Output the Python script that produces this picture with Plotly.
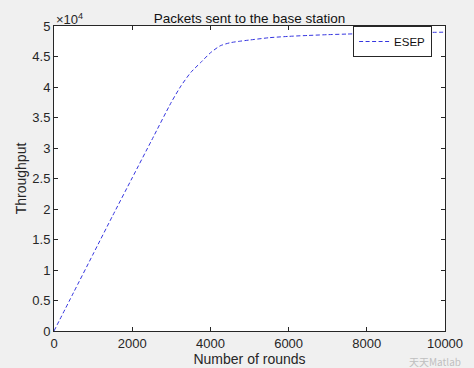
import plotly.graph_objects as go

rounds = [0, 500, 1000, 1500, 2000, 2500, 3000, 3250, 3500, 3750, 4000, 4250, 4500, 4750, 5000, 5500, 6000, 6500, 7000, 7500, 8000, 8500, 9000, 9500, 10000]
throughput = [0, 6300, 12600, 18900, 25100, 31300, 37500, 40200, 42400, 44000, 45600, 46750, 47250, 47500, 47700, 48080, 48300, 48450, 48580, 48680, 48760, 48830, 48890, 48940, 48990]

x_ticks = [0, 2000, 4000, 6000, 8000, 10000]
x_tick_text = ["0", "2000", "4000", "6000", "8000", "10000"]
y_tick_vals = [0, 5000, 10000, 15000, 20000, 25000, 30000, 35000, 40000, 45000, 50000]
y_tick_text = ["0", "0.5", "1", "1.5", "2", "2.5", "3", "3.5", "4", "4.5", "5"]

font = "Liberation Sans, Arial, sans-serif"
axis_col = "#262626"

fig = go.Figure()
fig.add_trace(go.Scatter(
    x=rounds, y=throughput, mode="lines", name="ESEP",
    line=dict(color="#3535e0", width=1, dash="4px,2.5px", shape="spline", smoothing=0.6),
))

fig.update_layout(
    width=474, height=368,
    paper_bgcolor="#f0f0f0", plot_bgcolor="white",
    margin=dict(l=54, r=29, t=26, b=37),
    font=dict(family=font, size=13, color=axis_col),
    title=dict(text="Packets sent to the base station", x=0.5, xref="paper", xanchor="center",
               y=1.0, yref="paper", yanchor="bottom", pad=dict(b=3),
               font=dict(size=13.5, color="#111111")),
    showlegend=True,
    legend=dict(x=0.967, y=1.0, xanchor="right", yanchor="top",
                bgcolor="white", bordercolor=axis_col, borderwidth=1,
                font=dict(size=11.5, color="#111111"), itemwidth=30,
                tracegroupgap=0),
    xaxis=dict(range=[0, 10000], tickvals=x_ticks, ticktext=x_tick_text, ticks="inside", ticklen=4,
               tickcolor=axis_col, showline=True, linecolor=axis_col, linewidth=1,
               mirror="ticks", showgrid=False, zeroline=False, automargin=False,
               title=dict(text="Number of rounds", standoff=3, font=dict(size=14))),
    yaxis=dict(range=[0, 50000], tickvals=y_tick_vals, ticktext=y_tick_text,
               ticks="inside", ticklen=4, tickcolor=axis_col, showline=True,
               linecolor=axis_col, linewidth=1, mirror="ticks", showgrid=False,
               zeroline=False, automargin=False,
               title=dict(text="Throughput", standoff=2, font=dict(size=14))),
)

fig.add_annotation(text="×10<sup>4</sup>", xref="paper", yref="paper", x=0.0, y=1.0,
                   xanchor="left", yanchor="bottom", showarrow=False,
                   font=dict(size=13, color=axis_col), yshift=-3)
fig.add_annotation(text="天天Matlab", xref="paper", yref="paper", x=1.045, y=-0.068,
                   xanchor="right", yanchor="top", showarrow=False,
                   font=dict(size=10, color="rgba(185,185,185,0.9)",
                             family="Noto Sans CJK SC, sans-serif"))

fig.write_html(
    "out.html",
    config={"displayModeBar": False},
    post_script="document.body.style.margin='0';document.body.style.background='#f0f0f0';",
)
